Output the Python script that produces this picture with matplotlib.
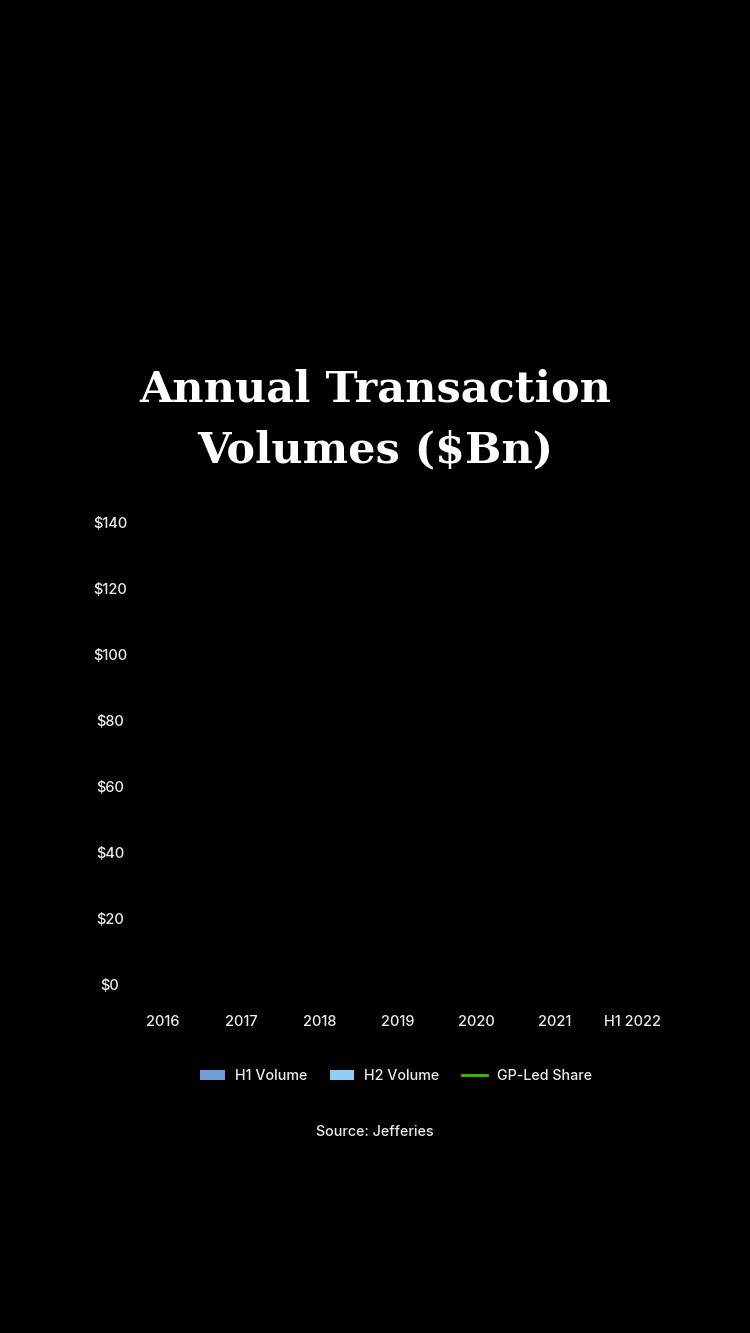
import numpy as np
import matplotlib
matplotlib.use("Agg")
import matplotlib.pyplot as plt
from matplotlib.patches import Patch
from matplotlib.lines import Line2D

# Data (this frame shows no bars yet, every value reads as zero)
years = ["2016", "2017", "2018", "2019", "2020", "2021", "H1 2022"]
h1_volume = [0, 0, 0, 0, 0, 0, 0]
h2_volume = [0, 0, 0, 0, 0, 0, 0]
gp_led_share = [np.nan, np.nan, np.nan, np.nan, np.nan, np.nan, np.nan]
y_ticks = [0, 20, 40, 60, 80, 100, 120, 140]
y_labels = ["$0", "$20", "$40", "$60", "$80", "$100", "$120", "$140"]

h1_color = "#6f9fd8"
h2_color = "#8fcdf6"
gp_color = "#3cc000"
text_color = "#ececec"

W, H = 750, 1333
fig = plt.figure(figsize=(W / 100, H / 100), dpi=100, facecolor="black")

# axes box in pixels: left 124, right 672, bottom 984, top 522
ax = fig.add_axes([124 / W, 1 - 984 / H, (672 - 124) / W, (984 - 522) / H])
ax.set_facecolor("black")

x = np.arange(len(years))
ax.bar(x, h1_volume, width=0.6, color=h1_color)
ax.bar(x, h2_volume, width=0.6, bottom=h1_volume, color=h2_color)

ax2 = ax.twinx()
ax2.plot(x, gp_led_share, color=gp_color, linewidth=2)
ax2.set_ylim(0, 1)
ax2.axis("off")

ax.set_xlim(-0.5, len(years) - 0.5)
ax.set_ylim(0, 140)
ax.set_xticks(x)
ax.set_xticklabels(years, fontsize=10.5, color=text_color, family="Inter",
                   fontweight="medium")
ax.set_yticks(y_ticks)
ax.set_yticklabels(y_labels, fontsize=10.5, color=text_color, family="Inter",
                   fontweight="medium")
for lab in ax.get_yticklabels():
    lab.set_ha("center")
ax.tick_params(axis="y", length=0, pad=10)
ax.tick_params(axis="x", length=0, pad=22)
for s in ax.spines.values():
    s.set_visible(False)

fig.text(0.5, 1 - 390 / H, "Annual Transaction", ha="center", va="center",
         fontsize=31, fontweight="bold", family="DejaVu Serif", color="white")
fig.text(0.5, 1 - 450 / H, "Volumes ($Bn)", ha="center", va="center",
         fontsize=31, fontweight="bold", family="DejaVu Serif", color="white")

handles = [Patch(facecolor=h1_color, label="H1 Volume"),
           Patch(facecolor=h2_color, label="H2 Volume"),
           Line2D([0], [0], color=gp_color, linewidth=2, label="GP-Led Share")]
leg = fig.legend(handles=handles, loc="center", bbox_to_anchor=(396 / W, 1 - 1076 / H),
                 ncol=3, frameon=False, handlelength=1.7,
                 handleheight=0.7, columnspacing=1.6, handletextpad=0.7,
                 prop={"family": "Inter", "size": 10.3, "weight": "medium"})
for t in leg.get_texts():
    t.set_color(text_color)

fig.text(0.5, 1 - 1132 / H, "Source: Jefferies", ha="center", va="center",
         fontsize=10.3, family="Inter", fontweight="medium", color=text_color)

fig.savefig("out.png", dpi=100, facecolor="black")
